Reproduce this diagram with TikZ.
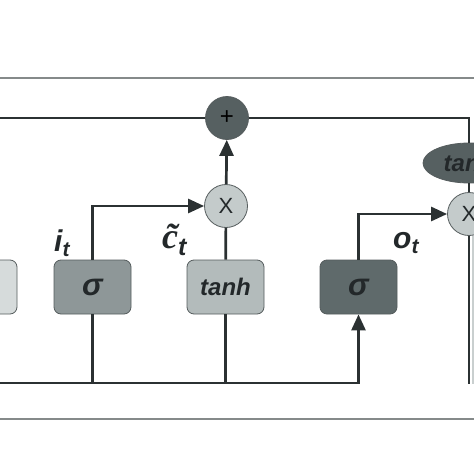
\documentclass[tikz,border=0pt]{standalone}
\usepackage{fontspec}
\setmainfont{Liberation Sans}
\newfontfamily\serifbi{Liberation Serif}
\usetikzlibrary{arrows.meta,shapes.geometric}
\definecolor{wirec}{HTML}{2B3132}
\definecolor{edgec}{HTML}{555C5D}
\definecolor{framec}{HTML}{858A8A}
\definecolor{textc}{HTML}{23282A}
\definecolor{addc}{HTML}{566061}
\definecolor{multc}{HTML}{C4CBCB}
\definecolor{gateL}{HTML}{D6DBDB}
\definecolor{gateA}{HTML}{8E9798}
\definecolor{gateB}{HTML}{B3BBBB}
\definecolor{gateC}{HTML}{5F6A6B}
\definecolor{stripc}{HTML}{C9CFCF}

\begin{document}
\begin{tikzpicture}[x=1pt,y=-1pt,
    wire/.style={draw=wirec,line width=2.7pt},
    arr/.style={wire,-{Triangle[length=16pt,width=14pt]}},
    frame/.style={draw=framec,line width=1.2pt},
    gate/.style={draw=edgec,line width=0.8pt,rounded corners=7pt,minimum width=77pt,minimum height=54pt,inner sep=0pt,text=textc,font=\fontsize{31}{31}\selectfont\bfseries\itshape},
    plus/.style={circle,draw=edgec,line width=0.8pt,fill=addc,minimum size=43pt,inner sep=0pt,text=black,font=\fontsize{24}{24}\selectfont},
    mult/.style={circle,draw=edgec,line width=0.8pt,fill=multc,minimum size=43pt,inner sep=0pt,text=textc,font=\fontsize{22}{22}\selectfont},
    lbl/.style={anchor=base west,inner sep=0pt,text=textc,font=\fontsize{30}{30}\selectfont\bfseries\itshape}]
    \useasboundingbox (0,0) rectangle (474,474);
    \clip (0,0) rectangle (474,474);
    \draw[frame] (0,78) -- (474,78);
    \draw[frame] (0,419) -- (474,419);
    \fill[stripc] (471.5,236) rectangle (480,384);
    \coordinate (cout) at (0,118);
    \coordinate (cturn) at (469,118);
    \coordinate (hin) at (0,383);
    \coordinate (hout) at (469,384);
    \node[gate,fill=gateL] (forget) at (-21.5,287) {};
    \node[gate,fill=gateA] (sig1) at (92.5,287) {σ};
    \node[gate,fill=gateB,font=\fontsize{24}{24}\selectfont\bfseries\itshape] (tanhbox) at (225.5,287) {tanh};
    \node[gate,fill=gateC] (sig3) at (358.5,287) {σ};
    \node[plus] (add) at (227,118) {+};
    \node[mult] (mulin) at (226,206) {X};
    \node[mult] (mulout) at (469,214) {X};
    \node[ellipse,draw=edgec,line width=0.8pt,fill=addc,minimum width=92pt,minimum height=40pt,inner sep=0pt,text=textc,font=\fontsize{24}{24}\selectfont\bfseries\itshape] (tanhc) at (469,163) {tanh};
    \draw[wire] (add) -- (cout);
    \draw[wire] (add) -- (cturn) -- (tanhc);
    \draw[wire] (tanhc) -- (mulout);
    \draw[wire] (mulout) -- (hout);
    \draw[arr] (mulin) -- (add);
    \draw[wire] (tanhbox) -- (mulin);
    \draw[arr] (sig1.north) |- (mulin.west);
    \draw[arr] (sig3.north) |- (mulout.west);
    \draw[arr] (hin) -| (sig3.south);
    \draw[wire] (sig1.south) -- (sig1.south |- hin);
    \draw[wire] (tanhbox.south) -- (tanhbox.south |- hin);
    \node[lbl] (it) at (54,251) {i\textsubscript{t}};
    \node[lbl,font=\fontsize{36}{36}\selectfont\serifbi\bfseries\itshape] (ct) at (162,248) {\~{c}\textsubscript{\fontsize{25}{25}\selectfont\rmfamily\bfseries\itshape t}};
    \node[lbl] (ot) at (393,248) {o\textsubscript{t}};
\end{tikzpicture}
\end{document}
